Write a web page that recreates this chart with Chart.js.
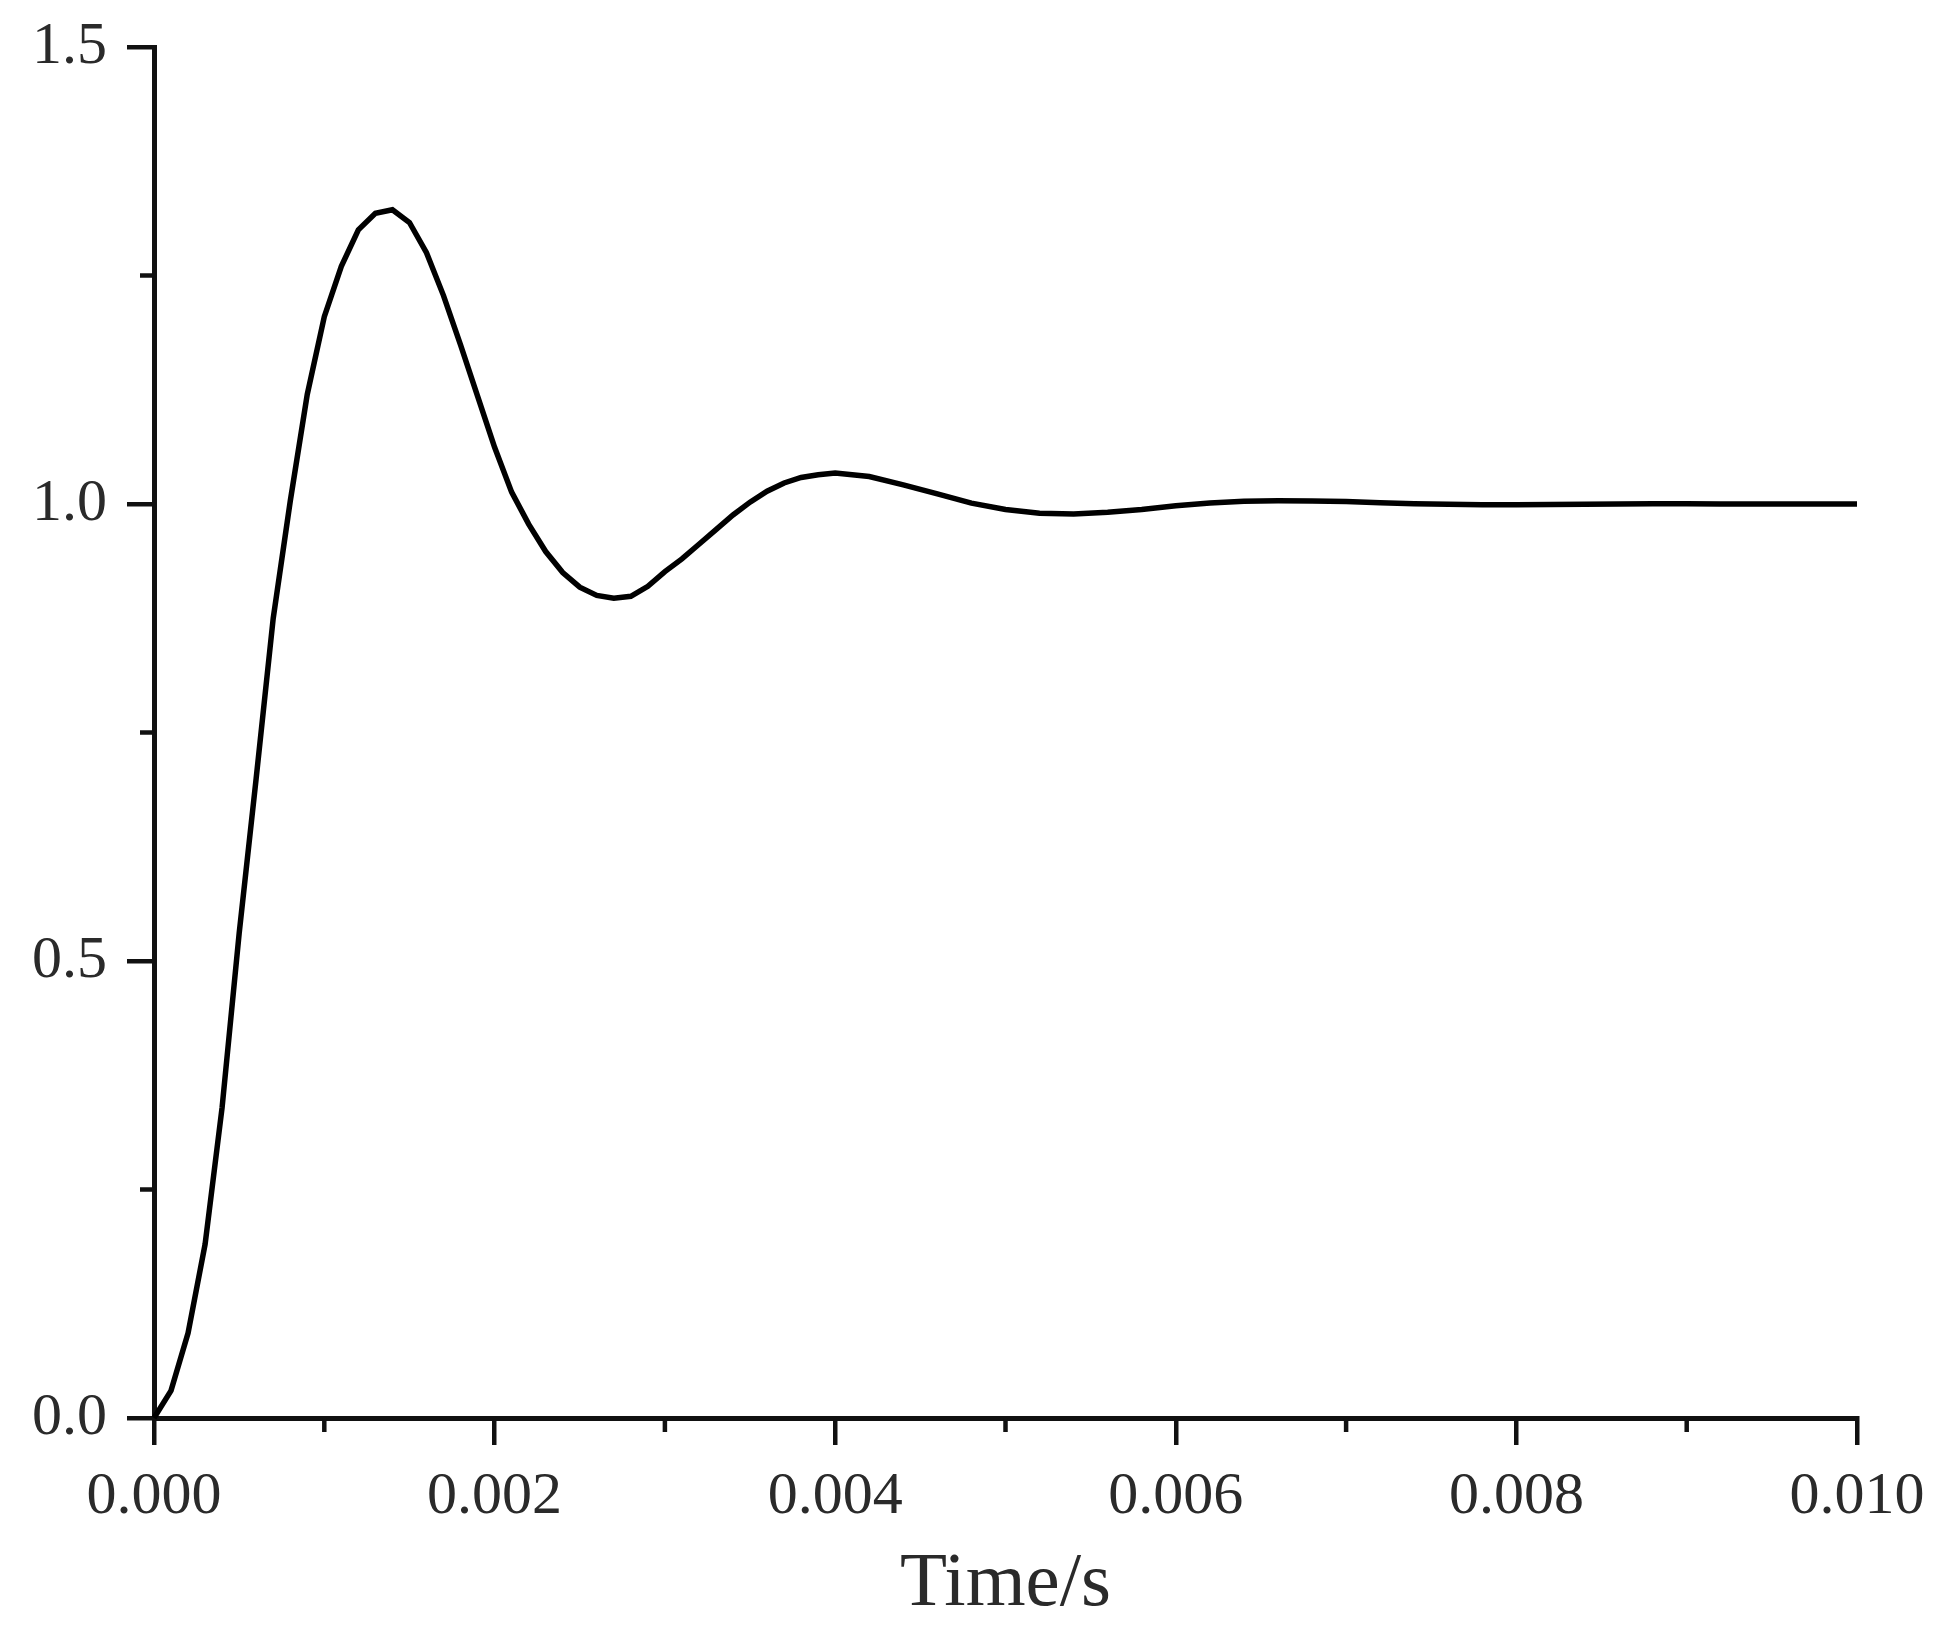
<!DOCTYPE html>
<html>
<head>
<meta charset="utf-8">
<script src="https://cdn.jsdelivr.net/npm/chart.js@4.4.1/dist/chart.umd.min.js"></script>
<style>
  html, body { margin: 0; padding: 0; background: #ffffff; }
  #wrap { width: 1945px; height: 1631px; position: relative; }
</style>
</head>
<body>
<div id="wrap"><canvas id="c"></canvas></div>
<script>
// ---- data ----
const timeValues = [
  0.0000, 0.0001, 0.0002, 0.0003, 0.0004, 0.0005, 0.0006, 0.0007, 0.0008, 0.0009,
  0.0010, 0.0011, 0.0012, 0.0013, 0.0014, 0.0015, 0.0016, 0.0017, 0.0018, 0.0019,
  0.0020, 0.0021, 0.0022, 0.0023, 0.0024, 0.0025, 0.0026, 0.0027, 0.0028, 0.0029,
  0.0030, 0.0031, 0.0032, 0.0033, 0.0034, 0.0035, 0.0036, 0.0037, 0.0038, 0.0039,
  0.0040, 0.0042, 0.0044, 0.0046, 0.0048, 0.0050, 0.0052, 0.0054, 0.0056, 0.0058,
  0.0060, 0.0062, 0.0064, 0.0066, 0.0068, 0.0070, 0.0072, 0.0074, 0.0076, 0.0078,
  0.0080, 0.0082, 0.0084, 0.0086, 0.0088, 0.0090, 0.0092, 0.0094, 0.0096, 0.0098,
  0.0100
];
const responseValues = [
  0.000, 0.030, 0.093, 0.190, 0.340, 0.530, 0.700, 0.875, 1.003, 1.120,
  1.205, 1.260, 1.300, 1.318, 1.322, 1.308, 1.275, 1.228, 1.174, 1.118,
  1.062, 1.013, 0.978, 0.948, 0.925, 0.909, 0.900, 0.897, 0.899, 0.910,
  0.926, 0.940, 0.956, 0.972, 0.988, 1.002, 1.014, 1.023, 1.029, 1.032,
  1.034, 1.030, 1.021, 1.011, 1.001, 0.994, 0.990, 0.989, 0.991, 0.994,
  0.998, 1.001, 1.003, 1.0035, 1.0034, 1.0026, 1.0015, 1.0004, 0.9996, 0.9993,
  0.9993, 0.9995, 0.9998, 1.0001, 1.0002, 1.0002, 1.0001, 1.0000, 1.0000, 1.0000,
  1.0000
];
const xMajorTicks = [0.000, 0.002, 0.004, 0.006, 0.008, 0.010];
const xMinorTicks = [0.001, 0.003, 0.005, 0.007, 0.009];
const yMajorTicks = [0.0, 0.5, 1.0, 1.5];
const yMinorTicks = [0.25, 0.75, 1.25];
const xAxisTitle = 'Time/s';

// ---- chart ----
const points = timeValues.map((t, i) => ({ x: t, y: responseValues[i] }));
const AXIS_COLOR = '#111111';
const TEXT_COLOR = '#2a2a2a';
const FONT = "'Liberation Serif', 'DejaVu Serif', serif";

const minorTickPlugin = {
  id: 'minorTicks',
  afterDraw(chart) {
    const ctx = chart.ctx;
    const xs = chart.scales.x, ys = chart.scales.y;
    ctx.save();
    ctx.strokeStyle = AXIS_COLOR;
    ctx.lineWidth = 4.5;
    ctx.lineCap = 'butt';
    const len = 14;
    xMinorTicks.forEach(v => {
      const px = xs.getPixelForValue(v);
      ctx.beginPath();
      ctx.moveTo(px, ys.bottom);
      ctx.lineTo(px, ys.bottom + len);
      ctx.stroke();
    });
    yMinorTicks.forEach(v => {
      const py = ys.getPixelForValue(v);
      ctx.beginPath();
      ctx.moveTo(xs.left, py);
      ctx.lineTo(xs.left - len, py);
      ctx.stroke();
    });
    ctx.restore();
  }
};

new Chart(document.getElementById('c'), {
  type: 'line',
  data: {
    datasets: [{
      data: points,
      borderColor: '#000000',
      borderWidth: 5.5,
      pointRadius: 0,
      tension: 0,
      fill: false,
      clip: false
    }]
  },
  options: {
    responsive: true,
    maintainAspectRatio: false,
    devicePixelRatio: 1,
    animation: false,
    layout: { padding: { left: 0, right: 88, top: 47, bottom: 0 } },
    plugins: { legend: { display: false }, tooltip: { enabled: false } },
    scales: {
      x: {
        type: 'linear',
        min: 0,
        max: 0.01,
        afterBuildTicks: s => { s.ticks = xMajorTicks.map(v => ({ value: v })); },
        afterFit: s => { s.height = 213; s.paddingLeft = 0; s.paddingRight = 0; },
        ticks: {
          callback: v => Number(v).toFixed(3),
          font: { family: FONT, size: 60 },
          color: TEXT_COLOR,
          padding: 16,
          maxRotation: 0,
          autoSkip: false
        },
        grid: {
          display: true,
          drawOnChartArea: false,
          drawTicks: true,
          tickLength: 27,
          color: AXIS_COLOR,
          lineWidth: 4.5
        },
        border: { display: true, color: AXIS_COLOR, width: 5 },
        title: {
          display: true,
          text: xAxisTitle,
          font: { family: FONT, size: 77 },
          color: TEXT_COLOR,
          padding: { top: 0, bottom: 0 }
        }
      },
      y: {
        type: 'linear',
        min: 0,
        max: 1.5,
        afterBuildTicks: s => { s.ticks = yMajorTicks.map(v => ({ value: v })); },
        afterFit: s => { s.width = 154; s.paddingTop = 0; s.paddingBottom = 0; },
        ticks: {
          callback: v => Number(v).toFixed(1),
          font: { family: FONT, size: 60 },
          color: TEXT_COLOR,
          padding: 20,
          autoSkip: false
        },
        grid: {
          display: true,
          drawOnChartArea: false,
          drawTicks: true,
          tickLength: 27,
          color: AXIS_COLOR,
          lineWidth: 4.5
        },
        border: { display: true, color: AXIS_COLOR, width: 5 }
      }
    }
  },
  plugins: [minorTickPlugin]
});
</script>
</body>
</html>
